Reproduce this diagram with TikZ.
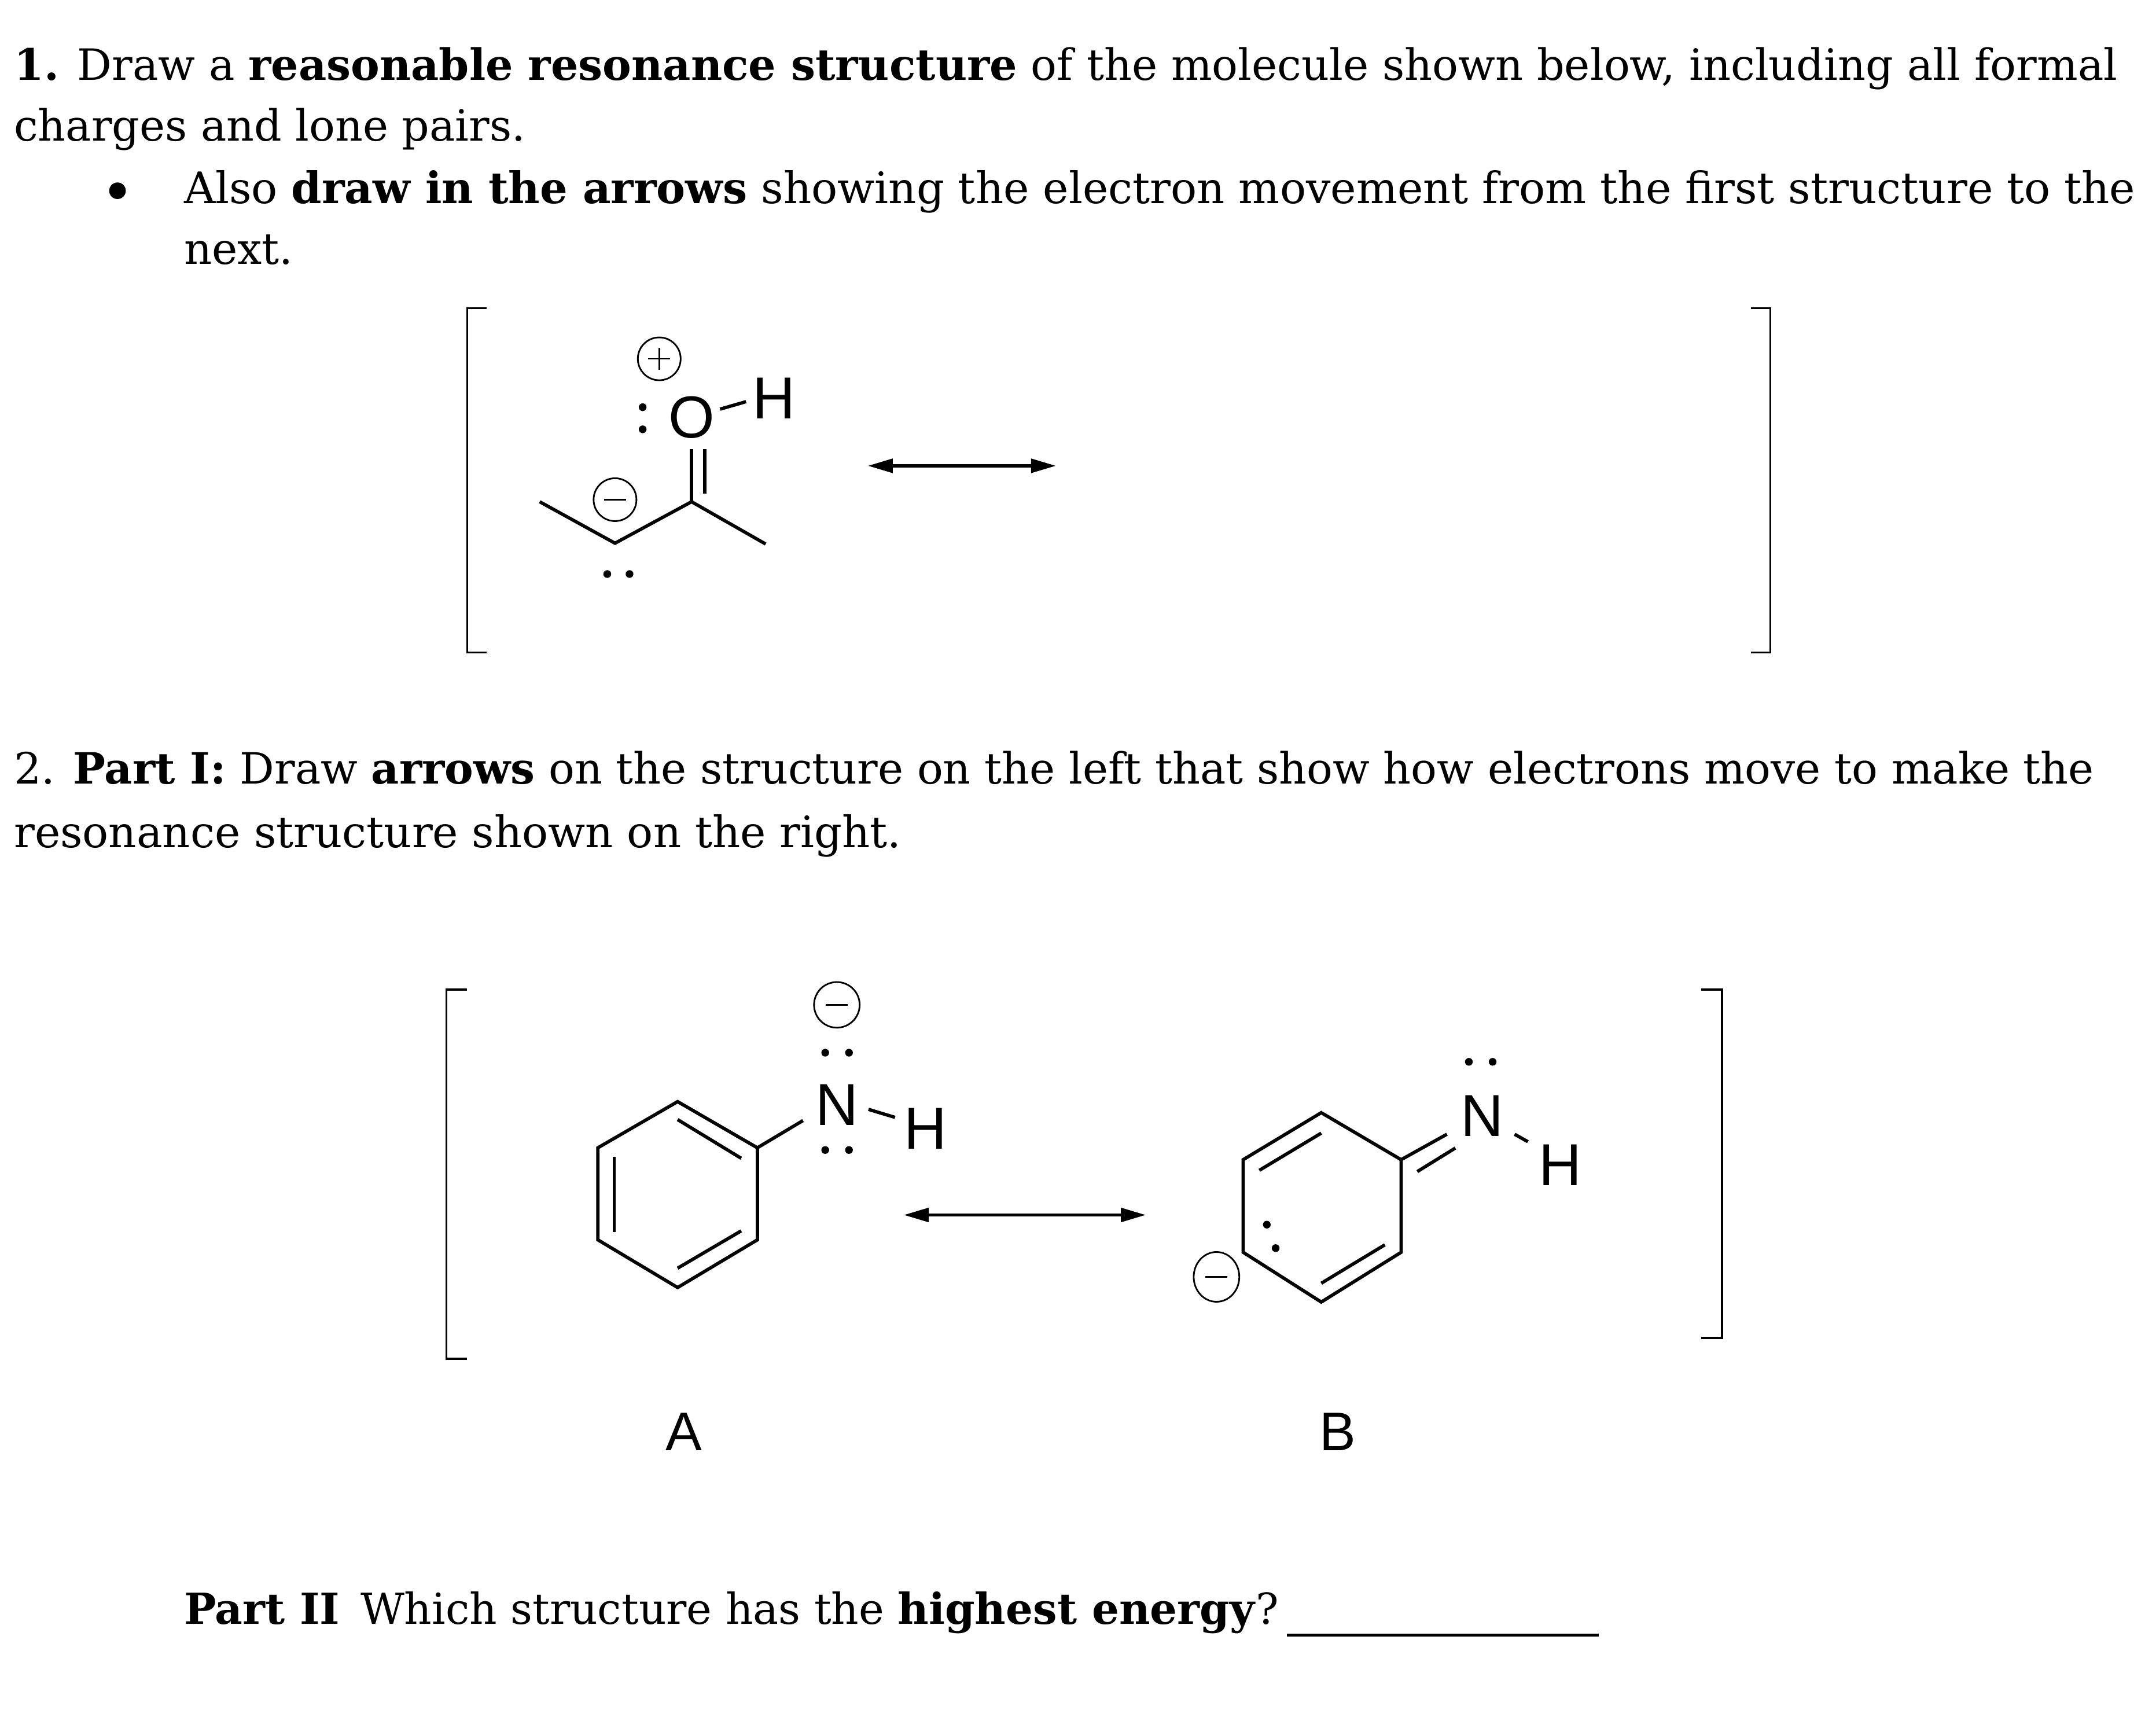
\documentclass[tikz,border=0pt]{standalone}
\usepackage{fontspec}
\setmainfont{DejaVu Serif}
\newfontfamily\molfont{Liberation Sans}
\usetikzlibrary{arrows.meta,calc,shapes.geometric}
\tikzset{
 bond/.style={line width=1.2mm},
 brk/.style={line width=0.75mm},
 atom/.style={inner sep=0pt,font=\molfont\fontsize{61}{61}\selectfont},
 lbl/.style={inner sep=0pt,font=\molfont\fontsize{56}{56}\selectfont},
 txt/.style={inner sep=0pt,anchor=base west},
 chg/.style={line width=0.6mm},
 res/.style={line width=1.1mm,{Triangle[length=9mm,width=5mm]}-{Triangle[length=9mm,width=5mm]}}
}
\newcommand{\tline}[2]{\resizebox{#1cm}{!}{\fontsize{40}{48}\selectfont #2}}
\begin{document}
\begin{tikzpicture}[x=0.05cm,y=-0.05cm]
\useasboundingbox (0,0) rectangle (1560,1242);
\fill[white] (0,0) rectangle (1560,1242);
% ---------- text ----------
\node[txt] (l1) at (10,58) {\tline{76.1}{\textbf{1.} Draw a \textbf{reasonable resonance structure} of the molecule shown below, including all formal}};
\node[txt] (l2) at (10,102) {\tline{18.5}{charges and lone pairs.}};
\fill (85,138) circle (6);
\node[txt] (l3) at (133,147) {\tline{70.6}{Also \textbf{draw in the arrows} showing the electron movement from the first structure to the}};
\node[txt] (l4) at (133,191) {\tline{3.95}{next.}};
\node[txt] (l5) at (10,567) {\tline{75.25}{2. \textbf{Part I:} Draw \textbf{arrows} on the structure on the left that show how electrons move to make the}};
\node[txt] (l6) at (10,613) {\tline{32.1}{resonance structure shown on the right.}};
\node[txt] (l7) at (133,1175) {\tline{39.6}{\textbf{Part II}\, Which structure has the \textbf{highest energy}?}};
\coordinate (u1) at (931,1183); \coordinate (u2) at (1157,1183);
\draw[line width=0.9mm] (u1) -- (u2);
% ---------- brackets ----------
\draw[brk] (352,223) -- (338,223) -- (338,472) -- (352,472);
\draw[brk] (1267,223) -- (1281,223) -- (1281,472) -- (1267,472);
\draw[brk] (338,716) -- (323,716) -- (323,983) -- (338,983);
\draw[brk] (1231,716) -- (1246,716) -- (1246,968) -- (1231,968);
% ---------- molecule 1 ----------
\coordinate (c1) at (390.5,363);
\coordinate (c2) at (445,393);
\coordinate (c3) at (500.4,363);
\coordinate (c4) at (554,393.6);
\draw[bond,line join=miter] (c1) -- (c2) -- (c3) -- (c4);
\coordinate (o1a) at (500.4,325); \coordinate (o2a) at (510,325); \coordinate (o2b) at (510,357);
\draw[bond] (c3) -- (o1a);
\draw[bond] (o2a) -- (o2b);
\node[atom] (O) at (500.4,302) {O};
\node[atom] (H1) at (559.8,288) {H};
\coordinate (oh1) at (521,296); \coordinate (oh2) at (539.8,290.6);
\draw[bond] (oh1) -- (oh2);
\fill (465,294.6) circle (2.8) (465,310.6) circle (2.8);
\fill (439.4,415.3) circle (2.8) (455.5,415.3) circle (2.8);
\node[draw,chg,circle,minimum size=31*0.05cm,inner sep=0pt] (pl) at (477,259.6) {};
\draw[chg] ($(pl)+(-8,0)$) -- ($(pl)+(8,0)$) ($(pl)+(0,-8)$) -- ($(pl)+(0,8)$);
\node[draw,chg,circle,minimum size=31*0.05cm,inner sep=0pt] (mi1) at (445,361.5) {};
\draw[chg] ($(mi1)+(-8,0)$) -- ($(mi1)+(8,0)$);
\coordinate (a1s) at (628,337); \coordinate (a1e) at (764,337);
\draw[res] (a1s) -- (a1e);
% ---------- molecule A ----------
\coordinate (A1) at (490.3,797);
\coordinate (A2) at (548,830.4);
\coordinate (A3) at (548,897);
\coordinate (A4) at (490.3,931.5);
\coordinate (A5) at (432.6,897);
\coordinate (A6) at (432.6,830.4);
\draw[bond,line join=miter] (A1) -- (A2) -- (A3) -- (A4) -- (A5) -- (A6) -- cycle;
\draw[bond] (490.3,810) -- (536.3,838);
\draw[bond] (444.4,837) -- (444.4,891.3);
\draw[bond] (490.3,917.5) -- (536.3,890.5);
\coordinate (An) at (581,810.7);
\draw[bond] (A2) -- (An);
\node[atom] (NA) at (605.5,799.4) {N};
\node[atom] (HA) at (669.8,816.6) {H};
\coordinate (ah1) at (628.4,802.6); \coordinate (ah2) at (647.6,808.4);
\draw[bond] (ah1) -- (ah2);
\fill (597.1,761.6) circle (2.8) (614.3,761.6) circle (2.8);
\fill (597.1,832) circle (2.8) (614.3,832) circle (2.8);
\node[draw,chg,circle,minimum size=33*0.05cm,inner sep=0pt] (mA) at (605.5,727) {};
\draw[chg] ($(mA)+(-8,0)$) -- ($(mA)+(8,0)$);
\node[lbl] (labA) at (495,1036) {A};
\coordinate (a2s) at (654,879); \coordinate (a2e) at (829,879);
\draw[res] (a2s) -- (a2e);
% ---------- molecule B ----------
\coordinate (B1) at (956,805);
\coordinate (B2) at (1013.8,839);
\coordinate (B3) at (1013.8,906);
\coordinate (B4) at (956,942);
\coordinate (B5) at (899.5,906);
\coordinate (B6) at (899.5,839);
\draw[bond,line join=miter] (B1) -- (B2) -- (B3) -- (B4) -- (B5) -- (B6) -- cycle;
\draw[bond] (911.2,846.7) -- (956,819.8);
\draw[bond] (956,928.4) -- (1002,900.6);
\coordinate (Bn1) at (1046.9,820.6);
\draw[bond] (B2) -- (Bn1);
\draw[bond] (1025.5,847.6) -- (1053,830.6);
\node[atom] (NB) at (1072.5,807.4) {N};
\node[atom] (HB) at (1129,843) {H};
\coordinate (bh1) at (1095.9,820.6); \coordinate (bh2) at (1105.5,826);
\draw[bond] (bh1) -- (bh2);
\fill (1062.8,768.2) circle (2.8) (1080,768.2) circle (2.8);
\fill (916.6,886) circle (2.8) (923,903) circle (2.8);
\node[draw,chg,ellipse,minimum width=33*0.05cm,minimum height=36*0.05cm,inner sep=0pt] (mB) at (880.2,923.8) {};
\draw[chg] ($(mB)+(-8,0)$) -- ($(mB)+(8,0)$);
\node[lbl] (labB) at (968,1036) {B};
\end{tikzpicture}
\end{document}
